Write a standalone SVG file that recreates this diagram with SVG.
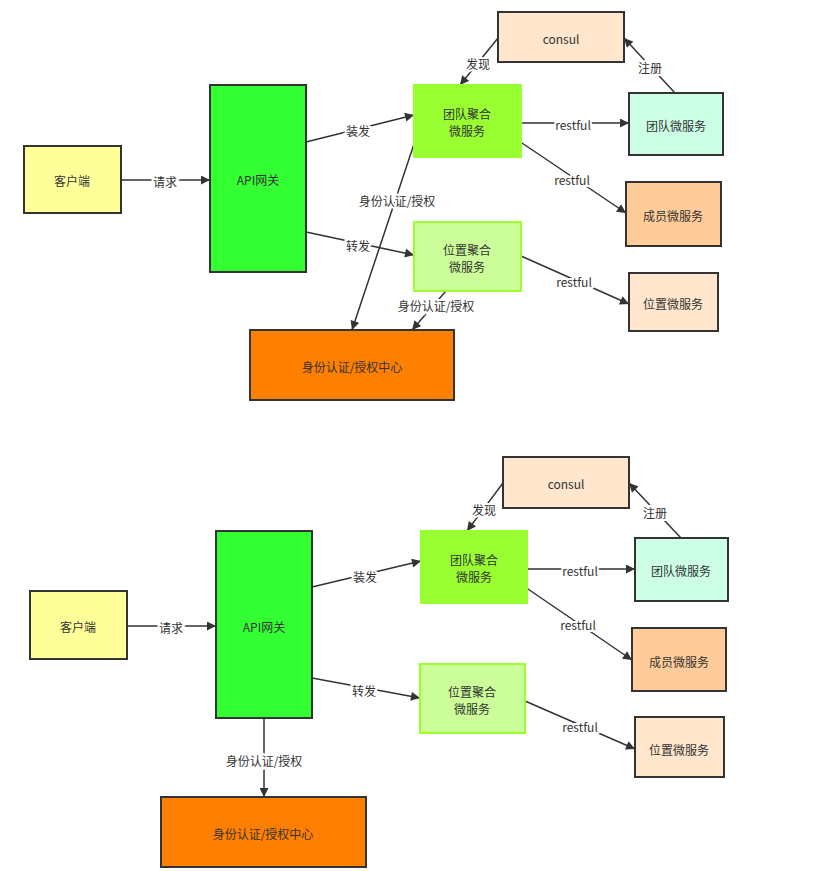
<svg xmlns="http://www.w3.org/2000/svg" width="833" height="871" viewBox="0 0 833 871">
<style>
.n{stroke:#333;stroke-width:2}
.t{font-family:"Noto Sans CJK SC","Liberation Sans",sans-serif;font-size:12px;fill:#333;text-anchor:middle;dominant-baseline:central}
.e{stroke:#333;stroke-width:1.5;fill:none;marker-end:url(#a)}
.l{font-family:"Noto Sans CJK SC","Liberation Sans",sans-serif;font-size:12px;fill:#333;text-anchor:middle;dominant-baseline:central}
</style>
<defs><marker id="a" viewBox="0 0 10 10" refX="10" refY="5" markerWidth="10" markerHeight="9" markerUnits="userSpaceOnUse" orient="auto"><path d="M0,0L10,5L0,10z" fill="#333"/></marker></defs>
<rect width="833" height="871" fill="#fff"/>
<g id="connectors">
<path class="e" d="M121,180H210"/><path class="e" d="M306,142L414,115"/><path class="e" d="M306,232L414,255"/>
<path class="e" d="M498,38L460,85"/><path class="e" d="M675,93L624,38"/><path class="e" d="M521,123H629"/>
<path class="e" d="M519,141L626,213"/><path class="e" d="M521,256L629,304"/><path class="e" d="M414,144L352,330"/><path class="e" d="M446,291L412,330"/>
<path class="e" d="M127,626H216"/><path class="e" d="M312,587L421,561"/><path class="e" d="M312,678L420,698"/>
<path class="e" d="M503,483L467,531"/><path class="e" d="M681,538L629,483"/><path class="e" d="M527,569H635"/>
<path class="e" d="M525,587L632,660"/><path class="e" d="M525,701L635,749"/><path class="e" d="M264,718V797"/>
<g class="l" style="paint-order:stroke" stroke="#fff" stroke-width="4">
<text x="165" y="181">请求</text>
<text x="358" y="130">装发</text>
<text x="358" y="245">转发</text>
<text x="478" y="63">发现</text>
<text x="650" y="67">注册</text>
<text x="573" y="124">restful</text>
<text x="572" y="179">restful</text>
<text x="574" y="281">restful</text>
<text x="397" y="200">身份认证/授权</text>
<text x="436" y="305">身份认证/授权</text>
<text x="171" y="627">请求</text>
<text x="365" y="576">装发</text>
<text x="364" y="690">转发</text>
<text x="484" y="509">发现</text>
<text x="655" y="512">注册</text>
<text x="580" y="570">restful</text>
<text x="578" y="624">restful</text>
<text x="580" y="726">restful</text>
<text x="264" y="760">身份认证/授权</text>
</g>
</g>
<g id="client1"><rect class="n" x="24" y="146" width="97" height="67" fill="#FFFF99"/><text class="t" x="72" y="180">客户端</text></g>
<g id="api1"><rect class="n" x="210" y="85" width="96" height="187" fill="#33FF33"/><text class="t" x="258" y="179">API网关</text></g>
<g id="teamagg1"><rect x="414" y="85" width="107" height="72" fill="#99FF33" stroke="#99FF33" stroke-width="2"/><text class="t" x="467" y="113">团队聚合</text><text class="t" x="467" y="130">微服务</text></g>
<g id="posagg1"><rect x="414" y="222" width="107" height="69" fill="#CCFF99" stroke="#99FF33" stroke-width="2"/><text class="t" x="467" y="249">位置聚合</text><text class="t" x="467" y="266">微服务</text></g>
<g id="consul1"><rect class="n" x="498" y="12" width="126" height="50" fill="#FFE6CC"/><text class="t" x="561" y="38">consul</text></g>
<g id="teamsvc1"><rect class="n" x="629" y="93" width="94" height="62" fill="#CCFFE6"/><text class="t" x="676" y="125">团队微服务</text></g>
<g id="membersvc1"><rect class="n" x="626" y="182" width="95" height="64" fill="#FFCC99"/><text class="t" x="673" y="215">成员微服务</text></g>
<g id="possvc1"><rect class="n" x="629" y="273" width="89" height="58" fill="#FFE6CC"/><text class="t" x="673" y="303">位置微服务</text></g>
<g id="auth1"><rect class="n" x="250" y="330" width="204" height="70" fill="#FF8000"/><text class="t" x="352" y="366">身份认证/授权中心</text></g>
<g id="client2"><rect class="n" x="30" y="591" width="97" height="68" fill="#FFFF99"/><text class="t" x="78" y="626">客户端</text></g>
<g id="api2"><rect class="n" x="216" y="531" width="96" height="187" fill="#33FF33"/><text class="t" x="264" y="626">API网关</text></g>
<g id="teamagg2"><rect x="421" y="531" width="106" height="72" fill="#99FF33" stroke="#99FF33" stroke-width="2"/><text class="t" x="474" y="559">团队聚合</text><text class="t" x="474" y="576">微服务</text></g>
<g id="posagg2"><rect x="420" y="664" width="105" height="69" fill="#CCFF99" stroke="#99FF33" stroke-width="2"/><text class="t" x="472" y="691">位置聚合</text><text class="t" x="472" y="708">微服务</text></g>
<g id="consul2"><rect class="n" x="503" y="457" width="126" height="51" fill="#FFE6CC"/><text class="t" x="566" y="483">consul</text></g>
<g id="teamsvc2"><rect class="n" x="635" y="538" width="93" height="63" fill="#CCFFE6"/><text class="t" x="681" y="570">团队微服务</text></g>
<g id="membersvc2"><rect class="n" x="632" y="628" width="94" height="63" fill="#FFCC99"/><text class="t" x="679" y="661">成员微服务</text></g>
<g id="possvc2"><rect class="n" x="635" y="717" width="89" height="60" fill="#FFE6CC"/><text class="t" x="679" y="749">位置微服务</text></g>
<g id="auth2"><rect class="n" x="161" y="797" width="205" height="70" fill="#FF8000"/><text class="t" x="263" y="833">身份认证/授权中心</text></g>
</svg>
